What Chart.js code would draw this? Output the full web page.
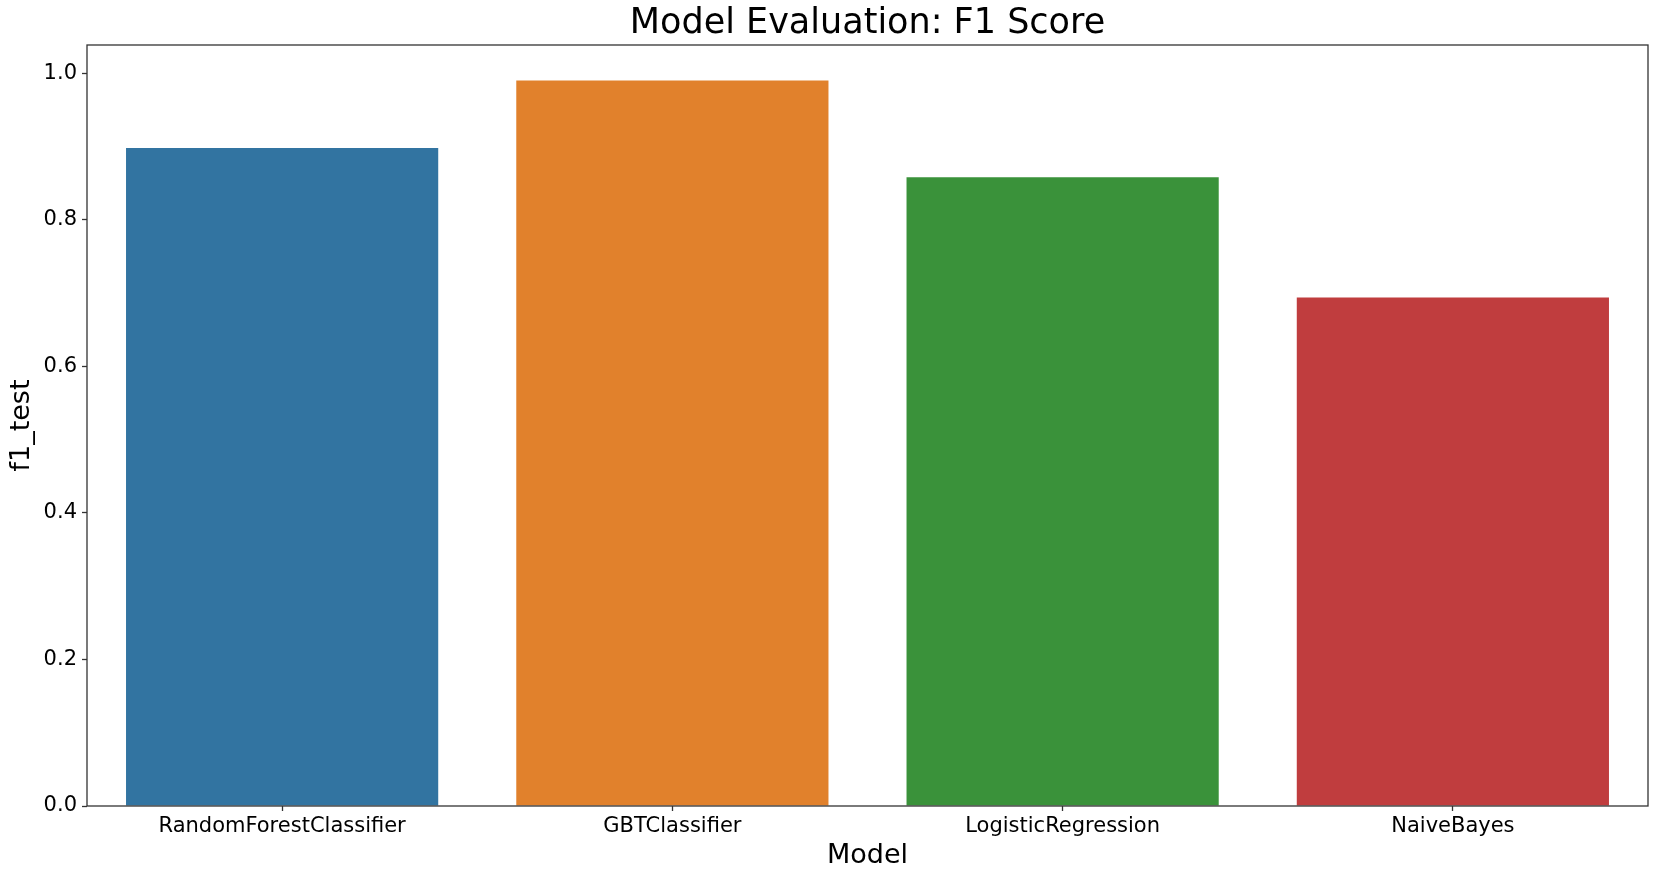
<!DOCTYPE html>
<html>
<head>
<meta charset="utf-8">
<script src="https://cdn.jsdelivr.net/npm/chart.js@4.4.1/dist/chart.umd.min.js"></script>
<style>
  html, body { margin: 0; padding: 0; background: #fff; }
  #wrap { width: 1658px; height: 878px; }
</style>
</head>
<body>
<div id="wrap"><canvas id="chart"></canvas></div>
<script>
// data
const models = ['RandomForestClassifier', 'GBTClassifier', 'LogisticRegression', 'NaiveBayes'];
const f1Test = [0.898, 0.990, 0.858, 0.694];
const barColors = ['#3274a1', '#e1812c', '#3a923a', '#c03d3e'];
const yTicks = [0, 0.2, 0.4, 0.6, 0.8, 1.0];

const FONT = 'DejaVu Sans';
Chart.defaults.font.family = FONT;
Chart.defaults.color = '#000';

// matplotlib style box round the plot area
const frame = {
  id: 'frame',
  afterDraw(chart) {
    const { ctx, chartArea: a } = chart;
    ctx.save();
    ctx.strokeStyle = '#333';
    ctx.lineWidth = 1.3;
    ctx.strokeRect(a.left, a.top, a.right - a.left, a.bottom - a.top);
    ctx.restore();
  }
};

new Chart(document.getElementById('chart'), {
  type: 'bar',
  data: {
    labels: models,
    datasets: [{
      data: f1Test,
      backgroundColor: barColors,
      borderWidth: 0,
      categoryPercentage: 1.0,
      barPercentage: 0.8
    }]
  },
  options: {
    responsive: true,
    maintainAspectRatio: false,
    animation: false,
    layout: { padding: { left: 0, right: 10, top: 0, bottom: 0 } },
    plugins: {
      legend: { display: false },
      tooltip: { enabled: false },
      title: {
        display: true,
        fullSize: false,
        text: 'Model Evaluation: F1 Score',
        font: { size: 35, weight: 'normal' },
        color: '#000',
        padding: { top: 3, bottom: 0 }
      }
    },
    scales: {
      x: {
        grid: { display: true, offset: false, drawOnChartArea: false, tickLength: 5, color: '#333', tickWidth: 1.3 },
        border: { display: false },
        ticks: { font: { size: 21 }, color: '#000', padding: 3, maxRotation: 0 },
        title: {
          display: true,
          text: 'Model',
          font: { size: 27 },
          color: '#000',
          padding: { top: 0, bottom: 6 }
        },
        afterFit: (s) => { s.height = 72; }
      },
      y: {
        min: 0,
        max: 1.0386,
        grid: { display: true, drawOnChartArea: false, tickLength: 5, color: '#333', tickWidth: 1.3 },
        border: { display: false },
        afterBuildTicks: (axis) => { axis.ticks = yTicks.map(v => ({ value: v })); },
        ticks: {
          font: { size: 21 },
          color: '#000',
          padding: 5,
          callback: (v) => Number(v).toFixed(1)
        },
        title: {
          display: true,
          text: 'f1_test',
          font: { size: 27 },
          color: '#000',
          padding: { top: 6, bottom: 0 }
        },
        afterFit: (s) => { s.width = 87; }
      }
    }
  },
  plugins: [frame]
});
</script>
</body>
</html>
